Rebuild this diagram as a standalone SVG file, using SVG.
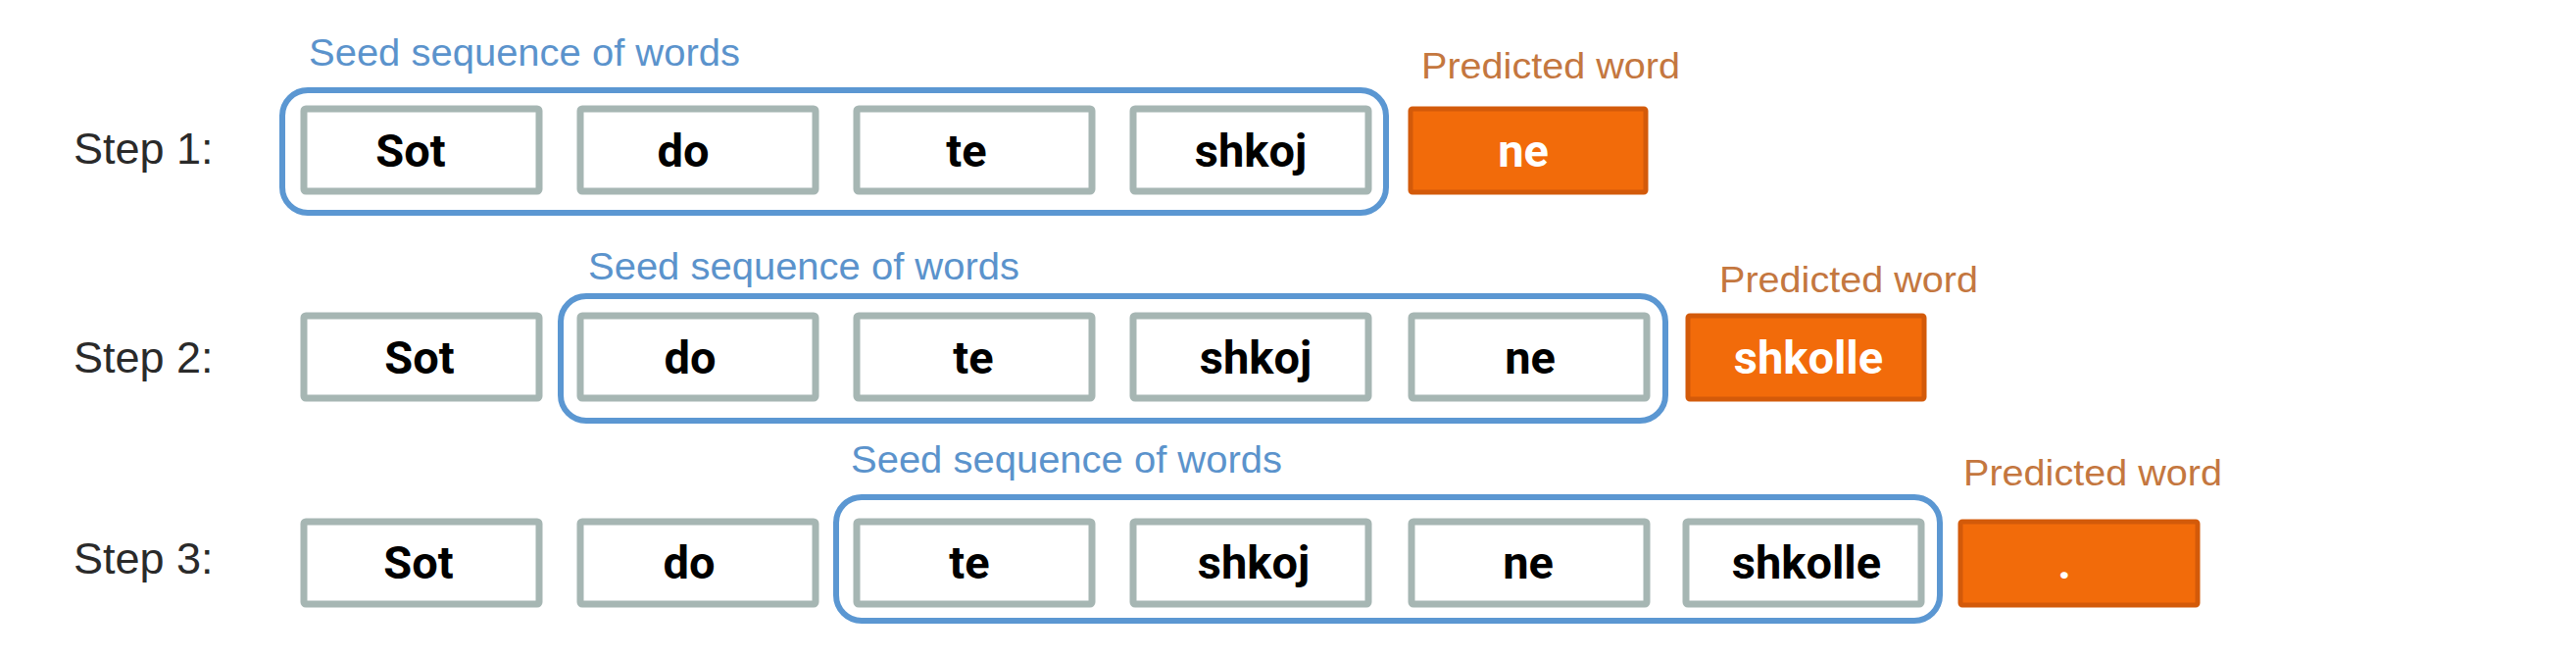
<svg xmlns="http://www.w3.org/2000/svg" width="2628" height="671" viewBox="0 0 2628 671">
<style>
.bg{fill:#ffffff}
.step{font-family:"Liberation Sans",Arial,sans-serif;font-size:45px;fill:#2a2a2a}
.seedlbl{font-family:"Liberation Sans",Arial,sans-serif;font-size:38px;fill:#5b93cc}
.predlbl{font-family:"Liberation Sans",Arial,sans-serif;font-size:37px;fill:#c4773f}
.frame{fill:none;stroke:#5b97d2;stroke-width:6}
.box{fill:#ffffff;stroke:#a6b6b3;stroke-width:7}
.pbox{fill:#f26b0a;stroke:#d35a0a;stroke-width:5}
.w{font-family:Roboto,"Liberation Sans",Arial,sans-serif;font-weight:bold;font-size:47px;fill:#000000;text-anchor:middle}
.pw{font-family:Roboto,"Liberation Sans",Arial,sans-serif;font-weight:bold;font-size:47px;fill:#ffffff;text-anchor:middle}
</style>
<rect class="bg" x="0" y="0" width="2628" height="671"/>
<g id="connectors"/>

<!-- Step 1 -->
<g id="step1">
  <text class="step" x="75" y="167">Step 1:</text>
  <g id="s1-seed">
    <text class="seedlbl" x="315" y="67" textLength="440" lengthAdjust="spacingAndGlyphs">Seed sequence of words</text>
    <rect class="frame" x="288" y="92" width="1126" height="125" rx="26"/>
  </g>
  <g id="s1-w0"><rect class="box" x="310" y="111" width="240" height="84" rx="2"/><text class="w" x="419" y="170">Sot</text></g>
  <g id="s1-w1"><rect class="box" x="592" y="111" width="240" height="84" rx="2"/><text class="w" x="697" y="170">do</text></g>
  <g id="s1-w2"><rect class="box" x="874" y="111" width="240" height="84" rx="2"/><text class="w" x="986" y="170">te</text></g>
  <g id="s1-w3"><rect class="box" x="1156" y="111" width="240" height="84" rx="2"/><text class="w" x="1276" y="170">shkoj</text></g>
  <g id="s1-pred">
    <text class="predlbl" x="1450" y="80" textLength="264" lengthAdjust="spacingAndGlyphs">Predicted word</text>
    <rect class="pbox" x="1439" y="111" width="240" height="85" rx="2"/>
    <text class="pw" x="1554" y="170">ne</text>
  </g>
</g>

<!-- Step 2 -->
<g id="step2">
  <text class="step" x="75" y="380">Step 2:</text>
  <g id="s2-seed">
    <text class="seedlbl" x="600" y="285" textLength="440" lengthAdjust="spacingAndGlyphs">Seed sequence of words</text>
    <rect class="frame" x="572" y="302" width="1127" height="127" rx="26"/>
  </g>
  <g id="s2-w0"><rect class="box" x="310" y="322" width="240" height="84" rx="2"/><text class="w" x="428" y="381">Sot</text></g>
  <g id="s2-w1"><rect class="box" x="592" y="322" width="240" height="84" rx="2"/><text class="w" x="704" y="381">do</text></g>
  <g id="s2-w2"><rect class="box" x="874" y="322" width="240" height="84" rx="2"/><text class="w" x="993" y="381">te</text></g>
  <g id="s2-w3"><rect class="box" x="1156" y="322" width="240" height="84" rx="2"/><text class="w" x="1281" y="381">shkoj</text></g>
  <g id="s2-w4"><rect class="box" x="1440" y="322" width="240" height="84" rx="2"/><text class="w" x="1561" y="381">ne</text></g>
  <g id="s2-pred">
    <text class="predlbl" x="1754" y="298" textLength="264" lengthAdjust="spacingAndGlyphs">Predicted word</text>
    <rect class="pbox" x="1722" y="322" width="241" height="85" rx="2"/>
    <text class="pw" x="1845" y="381">shkolle</text>
  </g>
</g>

<!-- Step 3 -->
<g id="step3">
  <text class="step" x="75" y="585">Step 3:</text>
  <g id="s3-seed">
    <text class="seedlbl" x="868" y="482" textLength="440" lengthAdjust="spacingAndGlyphs">Seed sequence of words</text>
    <rect class="frame" x="853" y="507" width="1126" height="126" rx="26"/>
  </g>
  <g id="s3-w0"><rect class="box" x="310" y="532" width="240" height="84" rx="2"/><text class="w" x="427" y="590">Sot</text></g>
  <g id="s3-w1"><rect class="box" x="592" y="532" width="240" height="84" rx="2"/><text class="w" x="703" y="590">do</text></g>
  <g id="s3-w2"><rect class="box" x="874" y="532" width="240" height="84" rx="2"/><text class="w" x="989" y="590">te</text></g>
  <g id="s3-w3"><rect class="box" x="1156" y="532" width="240" height="84" rx="2"/><text class="w" x="1279" y="590">shkoj</text></g>
  <g id="s3-w4"><rect class="box" x="1440" y="532" width="240" height="84" rx="2"/><text class="w" x="1559" y="590">ne</text></g>
  <g id="s3-w5"><rect class="box" x="1720" y="532" width="240" height="84" rx="2"/><text class="w" x="1843" y="590">shkolle</text></g>
  <g id="s3-pred">
    <text class="predlbl" x="2003" y="495" textLength="264" lengthAdjust="spacingAndGlyphs">Predicted word</text>
    <rect class="pbox" x="2000" y="532" width="242" height="85" rx="2"/>
    <text class="pw" x="2106" y="590">.</text>
  </g>
</g>
</svg>
